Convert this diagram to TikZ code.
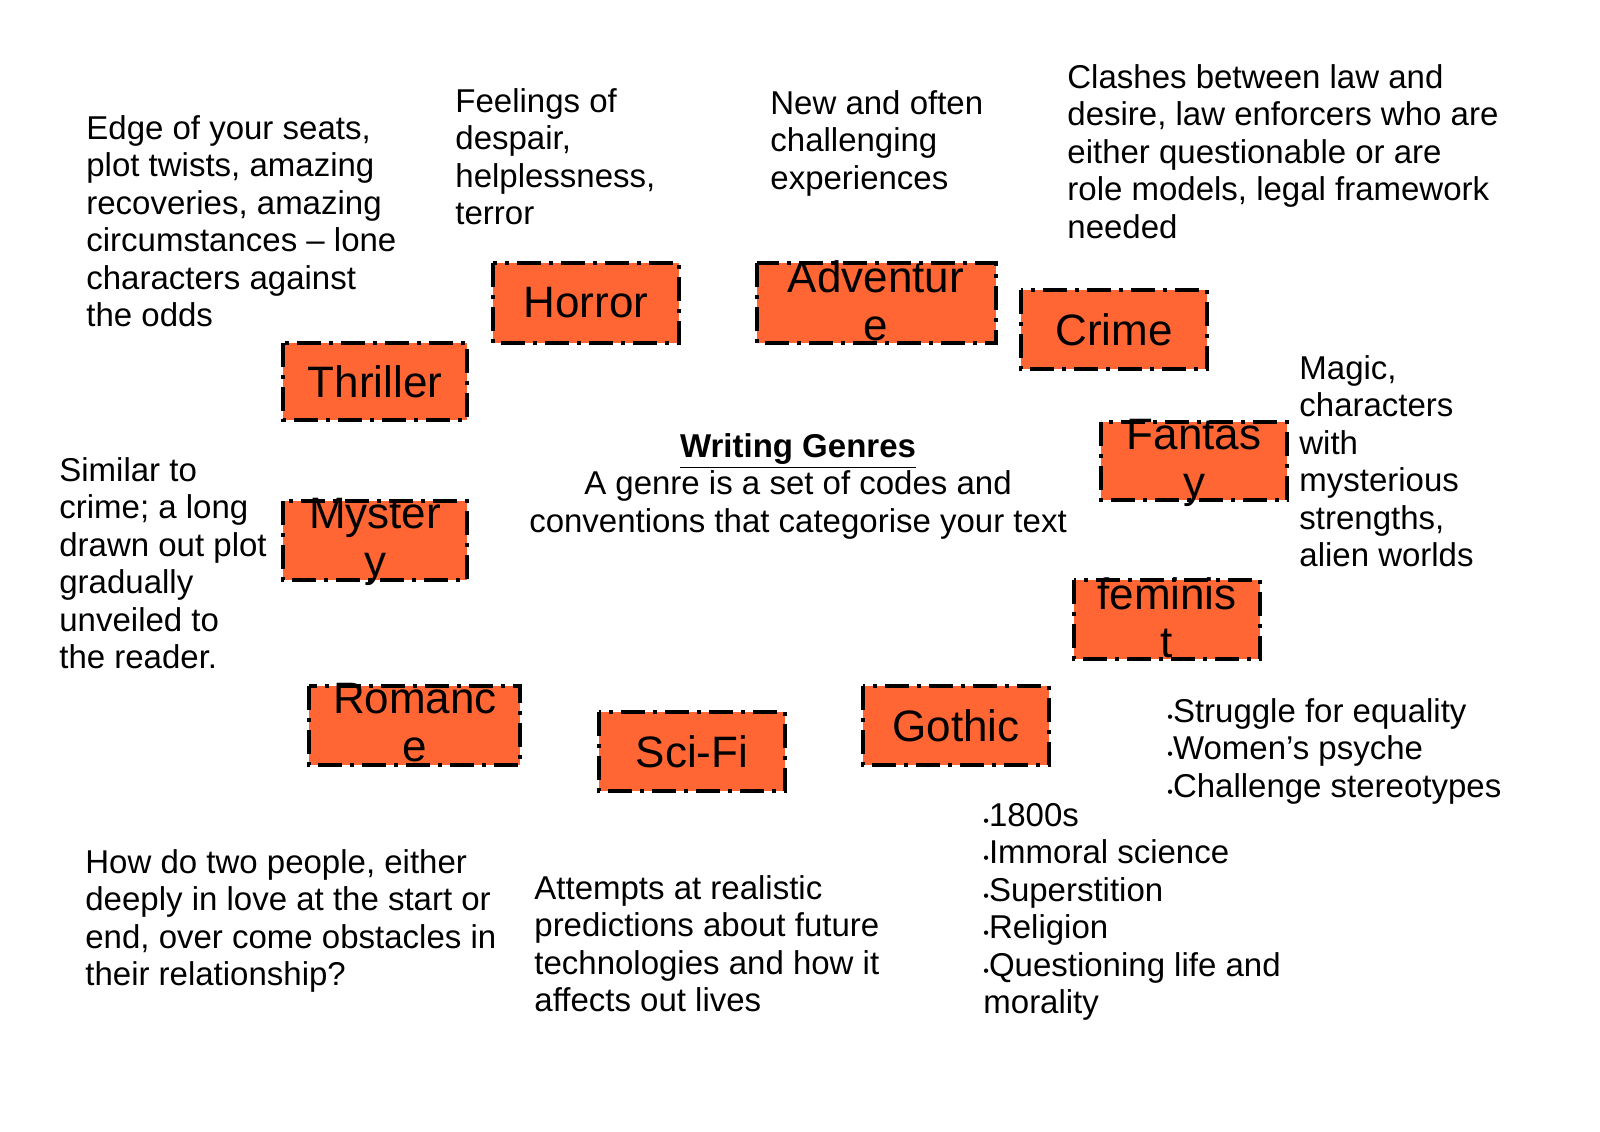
\documentclass[tikz,border=0pt]{standalone}
\usepackage{fontspec}
\setmainfont{Liberation Sans}
\definecolor{gorange}{HTML}{FF6633}
\newcommand\bul{{\footnotesize\textbullet}}
\begin{document}
\begin{tikzpicture}[x=0.5pt,y=-0.5pt,
  genre/.style={fill=gorange,draw=black,line width=2pt,dash pattern=on 12pt off 4pt on 2pt off 4pt},
  gtext/.style={font=\fontsize{22}{24}\selectfont,align=center,inner sep=0},
  desc/.style={anchor=north west,align=left,inner sep=0,font=\fontsize{16.5}{18.75}\selectfont}]
\useasboundingbox (0,0) rectangle (1600,1131);
% boxes
\draw[genre] (283,343) rectangle (467,420) node[midway,gtext] (thr) {Thriller};
\draw[genre] (493,263) rectangle (679,343) node[midway,gtext] (hor) {Horror};
\draw[genre] (757,263) rectangle (996,343);
\node[gtext,anchor=north] (adv) at (876,260) {Adventur\\e};
\draw[genre] (1021,290) rectangle (1207,369) node[midway,gtext] (cri) {Crime};
\draw[genre] (1101,422) rectangle (1287,500);
\node[gtext,anchor=north] (fan) at (1194,419) {Fantas\\y};
\draw[genre] (283,501) rectangle (467,580);
\node[gtext,anchor=north] (mys) at (375,498) {Myster\\y};
\draw[genre] (1074,580) rectangle (1260,659);
\node[gtext,anchor=north] (fem) at (1167,577) {feminis\\t};
\draw[genre] (309,686) rectangle (520,765);
\node[gtext,anchor=north] (rom) at (415,683) {Romanc\\e};
\draw[genre] (599,712) rectangle (785,791) node[midway,gtext] (sci) {Sci-Fi};
\draw[genre] (863,686) rectangle (1049,765) node[midway,gtext] (got) {Gothic};
% centre
\node[align=center,inner sep=0,font=\fontsize{16.5}{18.75}\selectfont,anchor=north] (title) at (798,433)
 {\textbf{\underline{Writing Genres}}\\A genre is a set of codes and\\conventions that categorise your text};
% descriptions
\node[desc] (d1) at (86,115) {Edge of your seats,\\plot twists, amazing\\recoveries, amazing\\circumstances -- lone\\characters against\\the odds};
\node[desc] (d2) at (455,88) {Feelings of\\despair,\\helplessness,\\terror};
\node[desc] (d3) at (770,90) {New and often\\challenging\\experiences};
\node[desc] (d4) at (1067,64) {Clashes between law and\\desire, law enforcers who are\\either questionable or are\\role models, legal framework\\needed};
\node[desc] (d5) at (1299,355) {Magic,\\characters\\with\\mysterious\\strengths,\\alien worlds};
\node[desc] (d6) at (59,457) {Similar to\\crime; a long\\drawn out plot\\gradually\\unveiled to\\the reader.};
\node[desc] (d7) at (1167,698) {\bul Struggle for equality\\\bul Women's psyche\\\bul Challenge stereotypes};
\node[desc] (d8) at (983,803) {\bul 1800s\\\bul Immoral science\\\bul Superstition\\\bul Religion\\\bul Questioning life and\\morality};
\node[desc] (d9) at (85,849) {How do two people, either\\deeply in love at the start or\\end, over come obstacles in\\their relationship?};
\node[desc] (d10) at (534,875) {Attempts at realistic\\predictions about future\\technologies and how it\\affects out lives};
\end{tikzpicture}
\end{document}
